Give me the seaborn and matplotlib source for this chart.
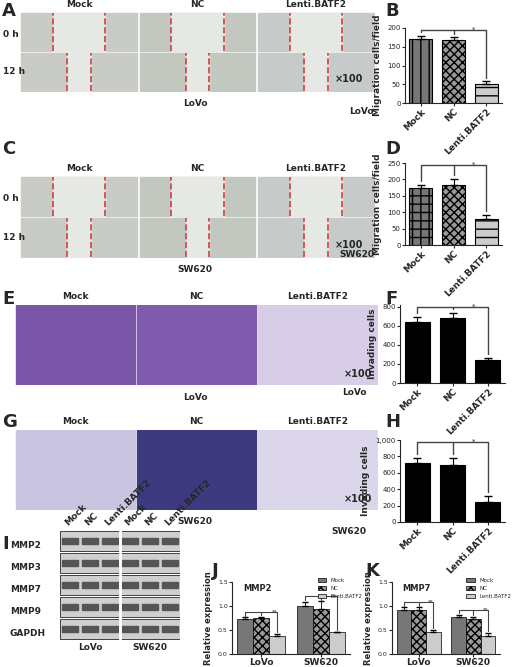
import matplotlib
matplotlib.use("Agg")
import matplotlib.pyplot as plt
import seaborn as sns
import pandas as pd
import numpy as np
from matplotlib.patches import Rectangle
from matplotlib.container import BarContainer

sns.set_style("ticks")
plt.rcParams['font.family'] = ['DejaVu Sans']

groups = ["Mock", "NC", "Lenti.BATF2"]
mig_lovo = [172, 168, 52]; mig_lovo_err = [8, 7, 6]
mig_sw = [175, 182, 78]; mig_sw_err = [8, 20, 14]
inv_lovo = [645, 685, 240]; inv_lovo_err = [45, 50, 25]
inv_sw = [725, 690, 240]; inv_sw_err = [55, 90, 75]
cells = ["LoVo", "SW620"]
mmp2 = {"Mock": [0.72, 1.01], "NC": [0.76, 0.93], "Lenti.BATF2": [0.37, 0.45]}
mmp2_err = {"Mock": [0.05, 0.08], "NC": [0.02, 0.17], "Lenti.BATF2": [0.04, 0.0]}
mmp7 = {"Mock": [0.91, 0.77], "NC": [0.91, 0.72], "Lenti.BATF2": [0.45, 0.38]}
mmp7_err = {"Mock": [0.07, 0.05], "NC": [0.06, 0.06], "Lenti.BATF2": [0.04, 0.05]}
blot_rows = ["MMP2", "MMP3", "MMP7", "MMP9", "GAPDH"]

W, H = 520, 667
fig = plt.figure(figsize=(W/100, H/100), dpi=100)

def ax_px(x0, y0, x1, y1):
    return fig.add_axes([x0/W, 1-y1/H, (x1-x0)/W, (y1-y0)/H])

def letter(x, y, s):
    fig.text(x/W, 1-y/H, s, fontsize=13, fontweight='bold', va='top')

def scratch_panel(y0, y1, tissue):
    ax = ax_px(20, y0, 375, y1)
    ax.set_xlim(0, 3); ax.set_ylim(0, 2); ax.axis('off')
    cols = ['#c9cbc6', '#c2c8c0', '#c6cac8']
    for i in range(3):
        for j in range(2):
            ax.add_patch(Rectangle((i+0.01, j+0.02), 0.98, 0.96, color=cols[i]))
            gap = 0.22 if j == 1 else 0.1
            ax.add_patch(Rectangle((i+0.5-gap, j+0.02), 2*gap, 0.96, color='#e6e8e4'))
            for xx in (i+0.5-gap, i+0.5+gap):
                ax.plot([xx, xx], [j+0.02, j+0.98], color='#d04040', ls='--', lw=1.2)
    ax.text(2.9, 0.25, "×100", fontsize=7, ha='right', fontweight='bold')
    for i, g in enumerate(groups):
        ax.text(i+0.5, 2.08, g, fontsize=6.5, fontweight='bold', ha='center', va='bottom')
    fig.text(3/W, 1-(y0+(y1-y0)*0.28)/H, "0 h", fontsize=6.5, fontweight='bold', va='center')
    fig.text(3/W, 1-(y0+(y1-y0)*0.75)/H, "12 h", fontsize=6.5, fontweight='bold', va='center')
    fig.text(195/W, 1-(y1+12)/H, tissue, fontsize=6.5, fontweight='bold', ha='center', va='center')

def stain_panel(y0, y1, tissue, cols):
    ax = ax_px(15, y0, 378, y1)
    ax.set_xlim(0, 3); ax.set_ylim(0, 1); ax.axis('off')
    for i in range(3):
        ax.add_patch(Rectangle((i+0.01, 0), 0.98, 1, color=cols[i]))
        ax.text(i+0.5, 1.05, groups[i], fontsize=6.5, fontweight='bold', ha='center', va='bottom')
    ax.text(2.95, 0.1, "×100", fontsize=7, ha='right', fontweight='bold')
    fig.text(195/W, 1-(y1+12)/H, tissue, fontsize=6.5, fontweight='bold', ha='center', va='center')

def bar3(ax, vals, errs, ylim, yticks, ylabel, tissue, color, hatches, tlabels=None):
    df = pd.DataFrame({"g": groups, "v": vals})
    sns.barplot(data=df, x="g", y="v", ax=ax, color=color, edgecolor='black', linewidth=0.8,
                width=0.7, errorbar=None)
    if hatches:
        for i, p in enumerate(ax.patches):
            p.set_hatch(hatches[i]); p.set_facecolor(['#777777', '#999999', '#cccccc'][i])
    ax.errorbar(range(3), vals, yerr=[[0]*3, errs], fmt='none', ecolor='black', capsize=3, lw=0.8)
    ax.set_ylim(*ylim); ax.set_yticks(yticks)
    if tlabels: ax.set_yticklabels(tlabels)
    ax.set_xlabel(""); ax.set_ylabel(ylabel, fontsize=6.5, fontweight='bold')
    ax.tick_params(labelsize=5, length=2, pad=1)
    ax.set_xticks(range(3)); ax.set_xticklabels(groups, rotation=45, ha='right', rotation_mode='anchor', fontsize=6.5, fontweight='bold')
    sns.despine(ax=ax)
    top = ylim[1]*0.98
    ax.plot([0, 0, 2, 2], [vals[0]+errs[0]+ylim[1]*0.05, top, top, vals[2]+errs[2]+ylim[1]*0.05], color='#444', lw=1, clip_on=False)
    ax.plot([1, 1], [vals[1]+errs[1]+ylim[1]*0.05, top], color='#444', lw=1)
    ax.text(1.6, top, "*", fontsize=5, ha='center', va='center')
    ax.text(-0.32, -0.06, tissue, transform=ax.transAxes, fontsize=6.5, fontweight='bold', ha='right', va='top')

def grouped(ax, data, err, title):
    rows = []
    for g in groups:
        for c, v in zip(cells, data[g]):
            rows.append({"cell": c, "g": g, "v": v})
    df = pd.DataFrame(rows)
    sns.barplot(data=df, x="cell", y="v", hue="g", ax=ax, palette=['#777777', '#999999', '#cccccc'],
                edgecolor='black', linewidth=0.5, width=0.8, errorbar=None)
    hat = ['', 'xxxx', '']
    bars = [c for c in ax.containers if isinstance(c, BarContainer)]
    for k, cont in enumerate(bars):
        for p in cont: p.set_hatch(hat[k])
        xs = [p.get_x()+p.get_width()/2 for p in cont]
        ax.errorbar(xs, data[groups[k]], yerr=[[0, 0], err[groups[k]]], fmt='none', ecolor='black', capsize=2, lw=0.6)
    ax.set_ylim(0, 1.5); ax.set_yticks([0, 0.5, 1.0, 1.5]); ax.set_yticklabels(["0.0", "0.5", "1.0", "1.5"])
    ax.set_xlabel(""); ax.set_ylabel("Relative expression", fontsize=6, fontweight='bold')
    ax.tick_params(labelsize=4.5, length=2, pad=1)
    ax.set_xticks([0, 1]); ax.set_xticklabels(cells, fontsize=6.5, fontweight='bold')
    sns.despine(ax=ax)
    h, l = ax.get_legend_handles_labels()
    for k, hh in enumerate(h): hh.set_hatch(hat[k])
    ax.legend(h, l, fontsize=4, frameon=False, loc='upper right', bbox_to_anchor=(1.15, 1.12), handlelength=1.5)
    ax.text(-0.3, 1.32, title, fontsize=6, fontweight='bold')
    for ci in range(2):
        vals = [data[g][ci] + err[g][ci] for g in groups]
        xs = [ci-0.27, ci, ci+0.27]
        top = max(vals) + 0.1
        ax.plot([xs[0], xs[0], xs[2], xs[2]], [vals[0]+0.03, top, top, vals[2]+0.05], color='#444', lw=0.8)
        ax.plot([xs[1], xs[1]], [vals[1]+0.03, top], color='#444', lw=0.8)
        ax.text(xs[2]-0.05, top, "**", fontsize=4, ha='center', va='center')

letter(2, 2, "A"); scratch_panel(12, 92, "LoVo")
letter(2, 140, "C"); scratch_panel(176, 258, "SW620")
letter(2, 290, "E"); stain_panel(305, 385, "LoVo", ['#7a55a8', '#7f5cae', '#d8cde6'])
letter(2, 413, "G"); stain_panel(430, 510, "SW620", ['#c9c4e0', '#3e3a80', '#dcd6ea'])

letter(385, 2, "B")
bar3(ax_px(405, 28, 502, 103), mig_lovo, mig_lovo_err, (0, 200), [0, 50, 100, 150, 200],
     "Migration cells/field", "LoVo", 'grey', ['||', 'xxxx', '--'])
letter(385, 140, "D")
bar3(ax_px(405, 163, 502, 245), mig_sw, mig_sw_err, (0, 250), [0, 50, 100, 150, 200, 250],
     "Migration cells/field", "SW620", 'grey', ['++', 'xxxx', '--'])
letter(385, 290, "F")
bar3(ax_px(400, 305, 505, 383), inv_lovo, inv_lovo_err, (0, 820), [0, 200, 400, 600, 800],
     "Invading cells", "LoVo", 'black', None)
letter(385, 413, "H")
bar3(ax_px(400, 440, 505, 522), inv_sw, inv_sw_err, (0, 1000), [0, 200, 400, 600, 800, 1000],
     "Invading cells", "SW620", 'black', None, ["0", "200", "400", "600", "800", "1,000"])

letter(2, 535, "I")
axb = ax_px(60, 530, 180, 640)
axb.set_xlim(0, 6); axb.set_ylim(0, 5); axb.axis('off')
for r, name in enumerate(blot_rows):
    yy = 4 - r
    axb.add_patch(Rectangle((0, yy+0.05), 6, 0.9, color='#cfcfcf', ec='black', lw=0.5))
    for c in range(6):
        axb.add_patch(Rectangle((c+0.1, yy+0.35), 0.8, 0.3, color='#555555'))
    fig.text(10/W, 1-(535+22*r+11)/H, name, fontsize=6.5, fontweight='bold', va='center')
for c, g in enumerate(groups*2):
    axb.text(c+0.5, 5.1, g, rotation=45, fontsize=6.5, fontweight='bold', ha='left', va='bottom', rotation_mode='anchor')
axb.plot([3, 3], [0, 5], color='white', lw=2)
fig.text(90/W, 1-650/H, "LoVo", fontsize=6.5, fontweight='bold', ha='center')
fig.text(150/W, 1-650/H, "SW620", fontsize=6.5, fontweight='bold', ha='center')

letter(212, 562, "J")
grouped(ax_px(232, 582, 350, 654), mmp2, mmp2_err, "MMP2")
letter(365, 562, "K")
grouped(ax_px(392, 582, 500, 654), mmp7, mmp7_err, "MMP7")

fig.savefig("out.png", dpi=100)
